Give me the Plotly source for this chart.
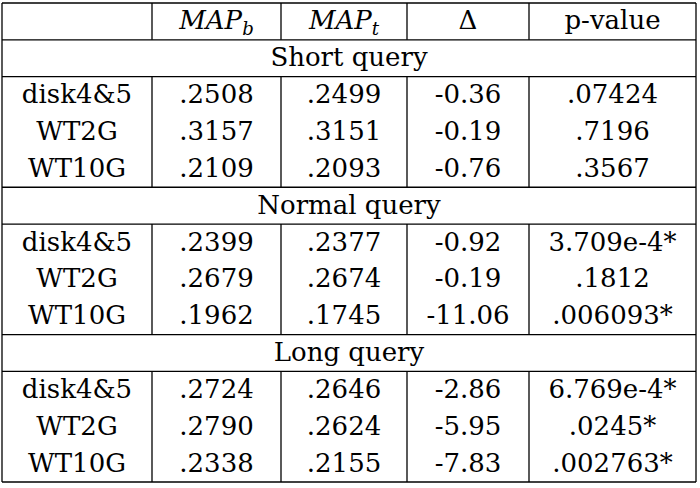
import plotly.graph_objects as go

# =========================
# data
# =========================
header = ["", "<i>MAP</i><sub><i>b</i></sub>", "<i>MAP</i><sub><i>t</i></sub>", "Δ", "p-value"]
sections = ["Short query", "Normal query", "Long query"]
datasets = ["disk4&5", "WT2G", "WT10G"]

map_b = [".2508", ".3157", ".2109", ".2399", ".2679", ".1962", ".2724", ".2790", ".2338"]
map_t = [".2499", ".3151", ".2093", ".2377", ".2674", ".1745", ".2646", ".2624", ".2155"]
delta = ["-0.36", "-0.19", "-0.76", "-0.92", "-0.19", "-11.06", "-2.86", "-5.95", "-7.83"]
p_value = [".07424", ".7196", ".3567", "3.709e-4*", ".1812", ".006093*", "6.769e-4*", ".0245*", ".002763*"]

# =========================
# layout of the grid (pixels)
# =========================
W, H = 700, 488
COL_EDGES = [2, 152, 281, 407, 529, 696]
TOP, BOTTOM = 3, 482
TEXT_SHIFT = 1.5
n_rows = 1 + len(sections) * (1 + len(datasets))
row_h = (BOTTOM - TOP) / n_rows
FONT = dict(family="DejaVu Serif", size=26, color="black")

col_mid = [(a + b) / 2 for a, b in zip(COL_EDGES[:-1], COL_EDGES[1:])]
full_mid = (COL_EDGES[0] + COL_EDGES[-1]) / 2


def row_center(i):
    return TOP + row_h * (i + 0.5) + TEXT_SHIFT


def esc(s):
    return s.replace("&", "&amp;")


xs, ys, texts = [], [], []
hlines = [TOP, TOP + row_h]
vsegs = [(TOP, TOP + row_h)]

# header
for c in range(1, len(header)):
    xs.append(col_mid[c])
    ys.append(row_center(0))
    texts.append(header[c])

r = 1
for s, name in enumerate(sections):
    xs.append(full_mid)
    ys.append(row_center(r))
    texts.append(name)
    r += 1
    hlines.append(TOP + row_h * r)
    start = TOP + row_h * r
    for d, ds in enumerate(datasets):
        k = s * len(datasets) + d
        for c, val in enumerate([ds, map_b[k], map_t[k], delta[k], p_value[k]]):
            xs.append(col_mid[c])
            ys.append(row_center(r))
            texts.append(esc(val))
        r += 1
    hlines.append(TOP + row_h * r)
    vsegs.append((start, TOP + row_h * r))

fig = go.Figure(go.Scatter(
    x=xs, y=ys, text=texts, mode="text",
    textposition="middle center", textfont=FONT,
    hoverinfo="skip", showlegend=False,
))

line = dict(color="black", width=1.3)
for y in hlines:
    fig.add_shape(type="line", x0=COL_EDGES[0], x1=COL_EDGES[-1], y0=y, y1=y, line=line)

# outer verticals
fig.add_shape(type="line", x0=COL_EDGES[0], x1=COL_EDGES[0], y0=TOP, y1=BOTTOM, line=line)
fig.add_shape(type="line", x0=COL_EDGES[-1], x1=COL_EDGES[-1], y0=TOP, y1=BOTTOM, line=line)
# inner verticals only inside header + data blocks
for x in COL_EDGES[1:-1]:
    for y0, y1 in vsegs:
        fig.add_shape(type="line", x0=x, x1=x, y0=y0, y1=y1, line=line)

fig.update_layout(
    width=W, height=H,
    margin=dict(l=0, r=0, t=0, b=0),
    paper_bgcolor="white", plot_bgcolor="white",
    font=FONT,
    xaxis=dict(range=[0, W], visible=False, fixedrange=True),
    yaxis=dict(range=[H, 0], visible=False, fixedrange=True),
)

fig.write_html("out.html", config={"displayModeBar": False},
               post_script="document.body.style.margin='0';")
